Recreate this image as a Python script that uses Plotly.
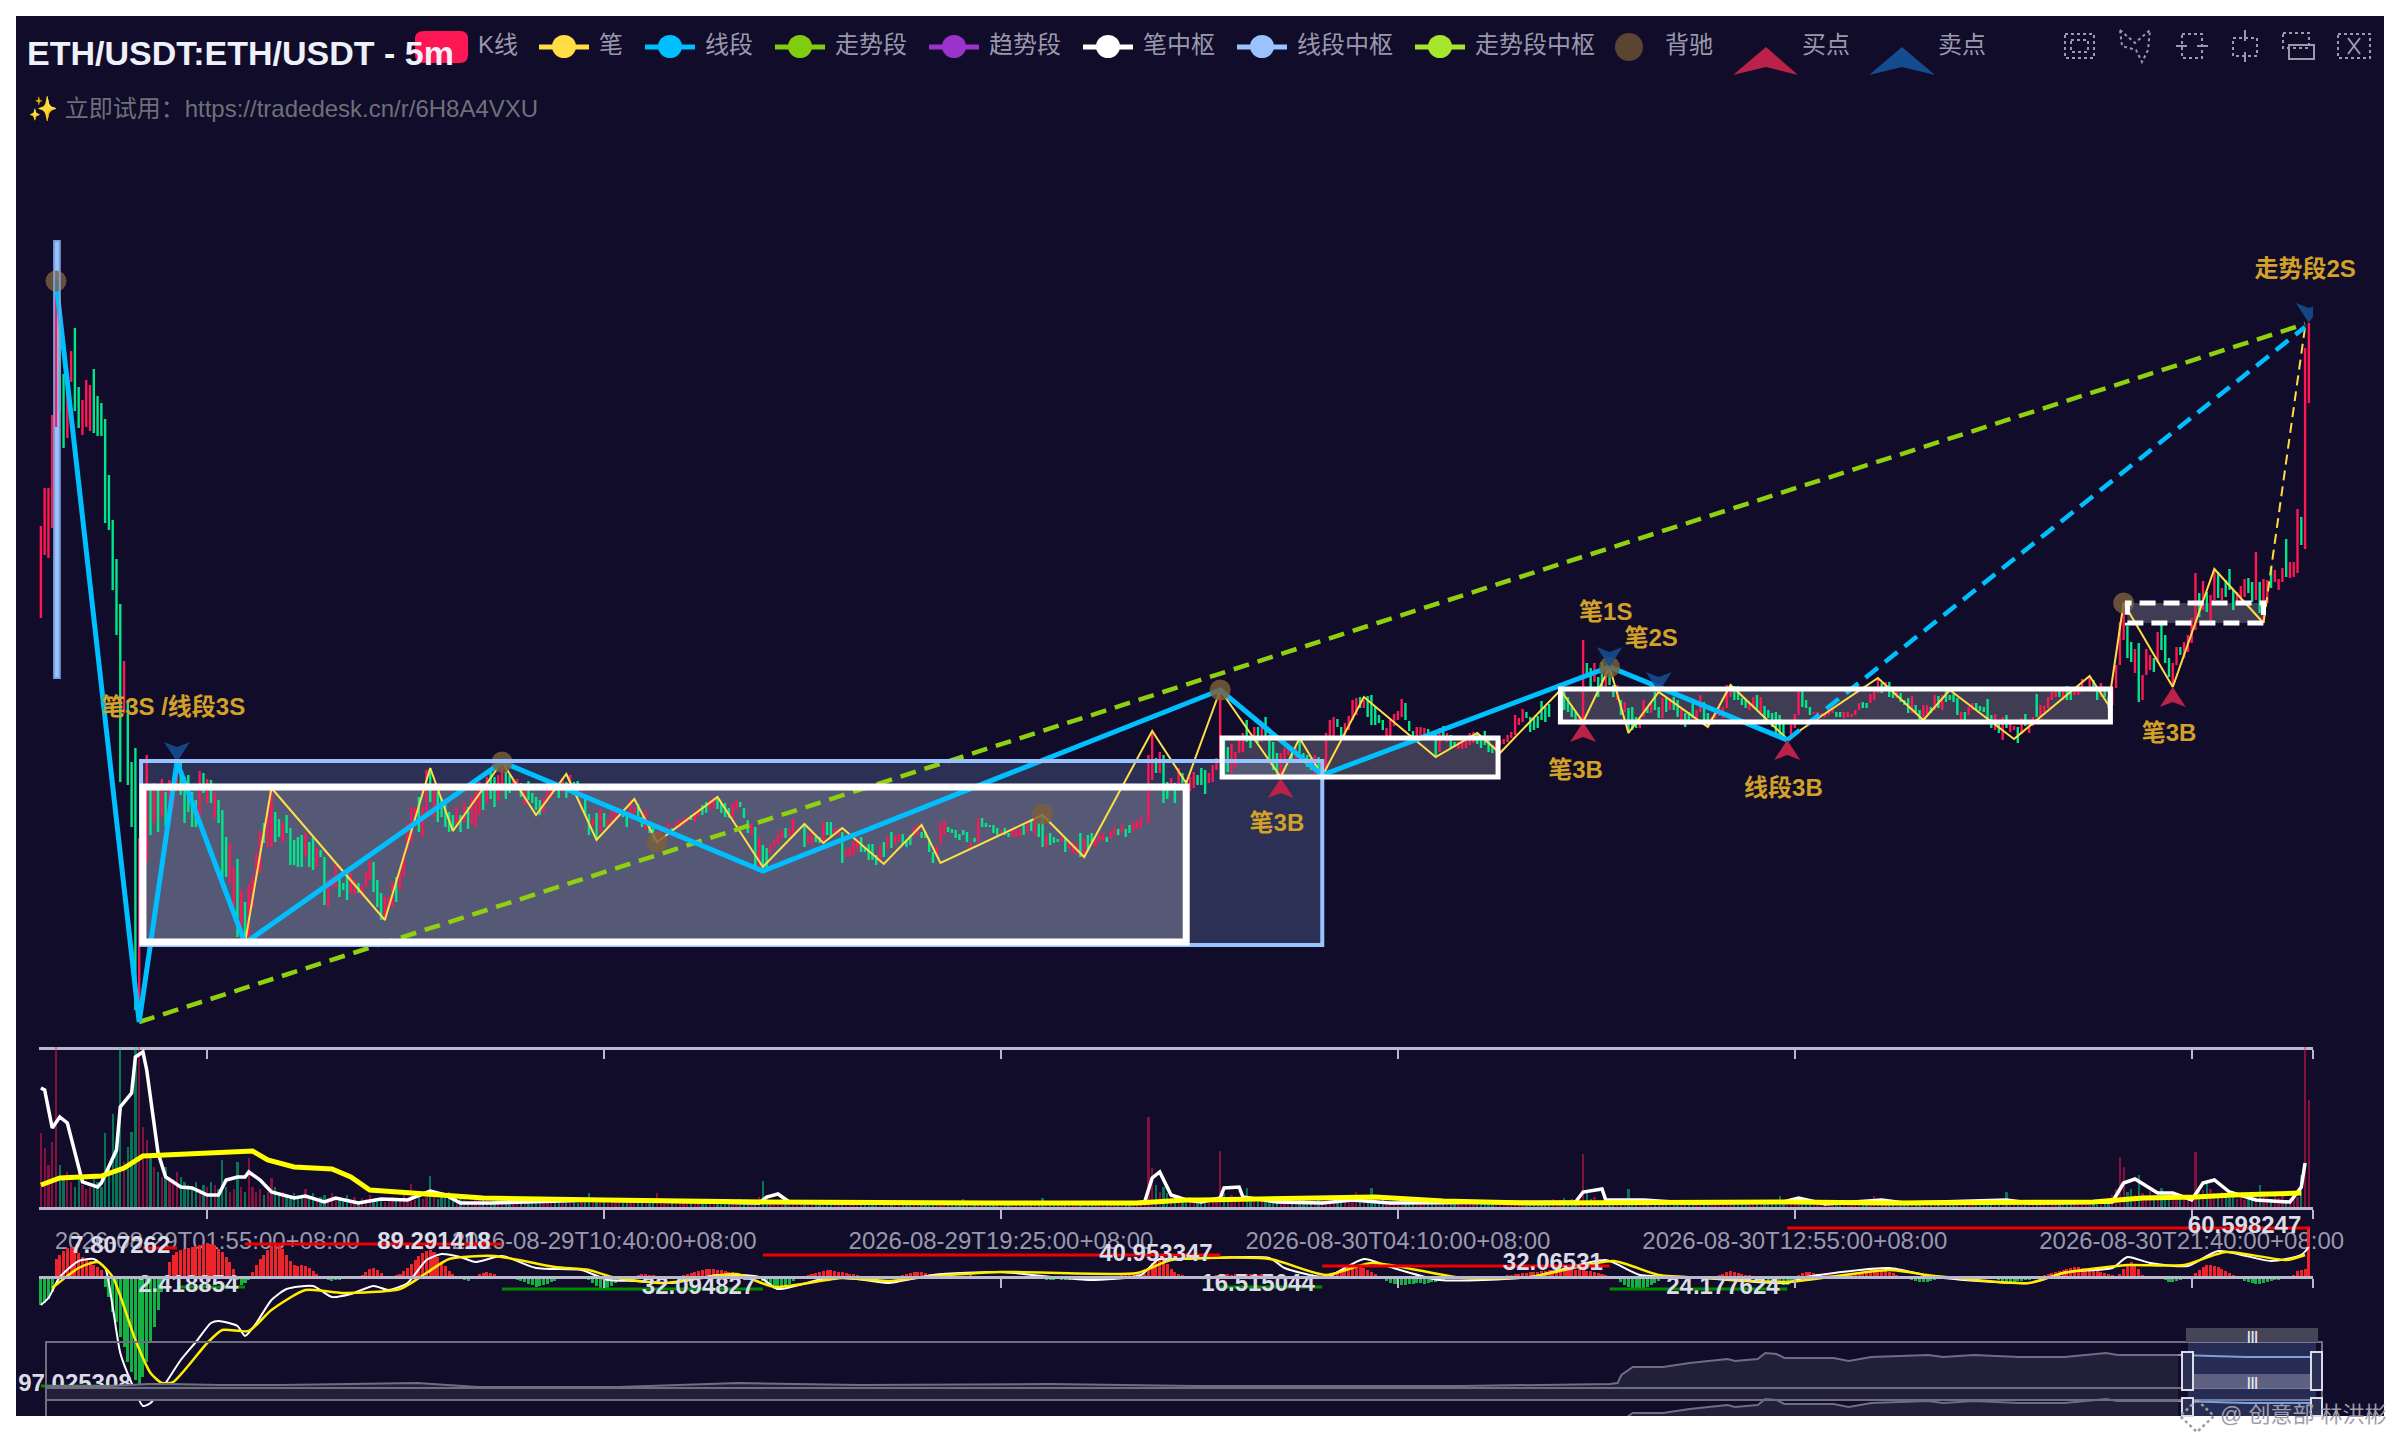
import plotly.graph_objects as go

# bars per stretch of the chart: (high, low, up)
bars_a = [(521,429,1),(559,492,1),(559,489,1),(632,519,1),(766,620,1),(727,634,0),(673,599,0),(669,609,1),(696,665,1),(719,636,0),
          (660,619,0),(647,612,1),(667,620,1),(662,616,1),(678,614,0),(651,611,0),(644,611,0),(628,524,0),(572,517,0),(527,457,0),
          (488,412,0),(443,265,0),(386,334,1),(347,262,0),(285,220,0),(299,37,0),(209,25,1),(245,172,1),(292,185,1),(259,212,0),
          (264,224,1),(259,215,0),(268,230,1),(255,220,0),(267,230,1),(270,240,1),(285,255,1),(284,252,0),(270,224,0),(272,235,0),
          (255,220,0),(247,220,0),(276,230,1),(274,254,0),(268,244,1),(267,244,0),(254,229,1),(247,224,0),(237,159,0),(210,170,0),
          (204,164,1),(180,140,1),(188,110,0),(157,112,1),(145,104,0),(163,104,1),(170,140,1),(194,170,1),(216,174,1),(224,204,0),
          (240,200,1),(260,200,1),(235,205,0),(228,210,0),(225,205,1),(232,214,0),(219,182,0),(207,182,0),(210,180,0),(212,180,0),
          (214,190,1),(205,180,0),(210,177,0),(199,180,1),(197,190,0),(190,142,0),(167,140,1),(170,160,1),(182,160,1),(170,150,0),
          (164,157,0),(174,147,0),(174,154,1),(167,152,1),(164,154,0),(162,150,1),(175,160,1),(187,167,1),(185,155,0),(167,140,0),
          (154,127,0),(150,129,1),(150,137,1),(165,140,1),(170,145,0),(177,157,1),(194,170,1),(224,197,1),(240,205,1),(239,224,1),
          (250,215,0),(240,210,1),(277,235,1),(279,245,0),(260,230,1),(255,225,0),(249,230,0),(245,220,0),(235,215,0),(232,216,0),
          (240,220,1),(232,215,0),(245,225,1),(240,218,0),(250,222,1),(255,220,1),(265,232,1),(262,237,0),(270,245,1),(275,248,0),
          (270,240,0),(272,246,1),(287,255,1),(275,248,0)]
bars_b = [(272,254,0),(267,257,1),(268,258,1),(264,250,0),(259,242,1),(266,247,0),(254,244,0),(250,237,0),(247,232,0),(249,234,1),
          (257,245,1),(262,249,1),(263,257,0),(264,249,0),(269,255,1),(265,249,0),(272,259,1),(265,252,0),(266,252,0),(261,249,1),
          (249,232,0),(233,212,0),(229,221,1),(234,209,0),(238,215,1),(234,220,0),(228,220,1),(238,225,1),(237,229,1),(237,230,1),
          (237,230,0),(232,220,0),(247,230,1),(240,233,1),(243,227,0),(230,220,0),(237,217,1),(222,214,0),(222,205,0),(215,207,1),
          (217,210,1),(220,214,1),(224,217,1),(219,216,0),(225,219,1),(227,220,1),(229,222,1),(230,225,1),(232,227,0),(234,225,1),
          (239,230,1),(242,232,0),(245,234,0),(247,237,1),(250,239,1),(248,238,0)]
bars_c = [(244,234,0),(244,230,0),(239,229,0),(244,229,1),(247,237,1),(245,240,0),(239,229,0),(227,214,0),(224,212,1),(220,179,0),
          (209,180,1),(202,179,0),(199,180,0),(202,194,1),(207,200,1),(213,203,1),(217,208,1),(219,209,0),(219,211,1),(229,214,1)]
bars_d = [(222,200,0),(212,204,1),(217,202,1),(212,205,0),(210,204,0),(225,205,1),(225,212,0),(225,209,0),(219,212,1),(219,212,1),
          (215,184,0),(198,190,1),(200,190,1),(206,192,1),(209,197,1),(210,195,0),(200,195,0),(203,187,0),(203,187,0),(192,182,0),
          (201,184,1),(205,190,0),(210,198,1)]
bars_e = [(215,199,0),(211,202,1),(213,205,1),(213,202,0),(207,200,0),(212,202,0),(220,212,1),(222,212,1),(215,209,0),(215,209,0),
          (209,195,0),(195,184,0),(201,193,1),(224,203,1),(227,212,1),(220,215,0),(218,214,0),(217,209,0),(213,207,0),(217,212,0),
          (215,205,0),(205,199,1),(209,205,0),(229,205,1),(229,220,0),(224,220,0),(222,220,0),(222,214,0),(219,212,0),(217,212,1),
          (219,212,0),(214,210,0),(217,210,1),(217,210,1),(218,210,1),(222,212,0),(226,214,1),(228,216,0),(226,212,1),(224,210,0)]
bars_f = [(232,200,0),(212,200,1),(214,202,0),(210,204,0),(208,205,0),(210,205,1),(210,195,0),(205,198,1),(204,195,1),(204,192,1),
          (214,190,0),(209,190,1),(212,196,0),(214,205,0),(208,200,1),(212,205,1),(214,207,1),(210,205,0),(216,208,1),(220,212,1),
          (218,212,0),(222,214,1),(218,210,0),(222,214,0),(225,216,1),(226,218,1),(230,220,1)]
bars_g = [(292,224,1),(316,267,1),(289,274,0),(295,274,1),(292,244,0),(265,248,0),(269,261,1),(264,244,0),(279,264,1),(274,264,0),
          (267,251,0),(270,256,1),(275,259,1),(272,262,0),(279,262,0),(277,253,0),(274,264,1),(282,265,1),(289,277,1)]
bars_h = [(357,289,1),(307,272,0),(300,275,0),(303,274,1),(295,280,1),(310,294,1),(314,295,1),(327,305,0),(307,299,0),(320,307,1),
          (320,304,0),(321,305,1),(330,309,0),(312,285,0),(305,277,0),(294,270,0),(294,270,1),(299,284,1),(301,292,1),(300,285,0),
          (300,285,1),(309,294,0),(294,285,0),(292,280,0),(289,277,0),(292,272,1),(290,275,0)]
bars_i = [(285,270,1),(314,274,1),(327,307,1),(330,310,1),(328,320,0),(320,309,0),(324,310,1),(331,317,1),(347,327,1),(349,332,1),
          (350,339,0),(347,339,1),(351,330,0),(352,322,0),(340,322,0),(332,324,0),(327,317,0),(319,307,1),(327,310,1),(333,321,1),
          (336,327,1),(348,330,1),(344,327,0),(326,316,0),(316,307,0),(320,310,1),(320,312,1),(319,312,1),(318,310,0),(314,307,0)]
bars_j = [(314,290,0),(319,295,1),(321,307,0),(314,305,1),(312,299,0),(305,300,0),(305,298,1),(305,298,1),(309,299,1),(314,302,1),
          (315,304,1),(314,303,0),(310,299,0),(316,302,0),(307,295,0),(302,294,0),(303,295,1),(307,302,1),(308,303,1),(312,305,1),
          (315,309,1),(332,312,1),(329,322,1),(338,325,1),(335,329,0),(330,315,0),(329,317,0),(331,319,0),(346,327,0),(340,325,0),(343,330,0)]
bars_k = [(357,337,1),(357,337,0),(350,335,0),(342,330,0),(335,325,0),(330,322,1),(407,320,1),(384,370,0),(379,360,0),(384,365,1),(370,350,0)]
bars_l = [(385,360,0),(377,360,1),(379,362,0),(362,350,0),(362,347,1),(347,332,0),(345,335,1),(339,314,0),(340,317,0),(330,319,0),
          (330,319,1),(347,330,1),(340,334,0),(344,334,1),(355,337,0),(340,329,0),(349,329,1),(350,335,0),(349,337,1),(350,337,0),
          (347,330,0),(339,322,1),(334,320,0),(335,324,0),(345,329,0),(337,327,1),(352,335,1),(345,327,0),(334,320,0),(330,322,1),
          (335,329,1),(341,331,1),(340,329,1),(362,339,1),(361,350,1),(361,347,0),(361,347,0),(349,342,0),(347,339,0),(344,337,1),
          (350,339,1),(352,337,0),(350,335,1),(341,325,0),(337,329,0),(334,320,0),(335,312,0),(332,312,0),(323,307,0)]
bars_m = [(322,312,1),(333,319,1),(357,332,1),(359,340,0),(347,339,0),(340,332,0),(335,333,1),(335,332,1),(334,332,1),(334,330,1),
          (336,332,1),(339,334,1),(335,330,0),(335,330,0),(335,329,1),(335,330,1),(333,330,1),(337,332,1),(344,337,1),(345,339,0),
          (344,339,0),(353,344,1),(359,347,1),(369,354,1),(364,354,0),(365,357,1),(365,350,0),(355,349,0),(355,349,1),(354,345,0),
          (347,342,0),(349,334,0),(351,334,1),(342,335,0),(337,327,0),(342,330,1),(342,332,1),(340,334,0),(352,337,1),(351,339,0),
          (352,337,1),(358,345,0),(352,347,0),(353,345,0),(349,332,0),(335,327,1),(335,326,0),(340,332,1),(344,337,1),(344,337,0),
          (341,336,0),(340,335,0),(348,327,0),(332,319,0),(333,317,1),(325,314,0),(330,307,1),(332,319,0),(323,315,1),(321,317,1),
          (320,304,0),(329,313,1),(333,321,0),(322,314,1),(330,321,1),(353,330,0),(342,330,1),(341,335,1),(350,339,1),(355,347,1),
          (359,350,1),(357,350,0),(358,347,1),(361,347,0),(355,347,0),(359,352,1),(362,352,1),(368,355,1)]
bars_n = [(370,357,1),(367,357,0),(359,347,0),(364,350,1),(359,350,0),(350,339,0),(360,342,1),(382,359,1),(425,382,1),(444,407,1),
          (421,389,0),(405,385,0),(398,374,1),(404,345,0),(372,347,1),(398,372,1),(392,377,1),(389,375,0),(415,385,1),(424,397,0),
          (412,384,0),(389,370,0),(384,360,1),(400,382,1),(400,392,0),(405,389,1),(412,395,1),(429,404,1),(474,417,1),(454,430,0),
          (466,437,1),(455,435,0),(452,422,1),(478,447,1),(475,449,0),(459,447,1),(467,450,0),(478,457,0),(457,437,0),(455,442,1),
          (461,442,1),(468,450,1),(469,454,0),(465,445,0),(495,447,1),(465,434,0),(468,424,1),(467,444,1),(480,459,0),(477,465,1),
          (468,457,1),(479,465,1),(508,470,0),(485,469,1),(485,470,1),(538,474,1),(530,502,0),(699,498,1),(724,644,1)]
bar_starts = [0, 124, 180, 202, 225, 265, 293, 312, 339, 369, 402, 413, 463, 542]
bar_groups = [bars_a, bars_b, bars_c, bars_d, bars_e, bars_f, bars_g, bars_h, bars_i, bars_j, bars_k, bars_l, bars_m, bars_n]

volume = [74,59,42,65,187,42,30,35,25,20,35,22,18,20,28,25,20,74,40,93,
          60,230,45,60,75,250,187,80,67,50,40,35,30,40,30,28,35,30,25,22,
          20,25,18,22,20,25,22,18,47,20,15,18,45,20,15,49,20,15,18,12,
          15,29,20,12,15,10,12,14,10,12,18,9,14,8,10,12,9,14,10,8,
          9,12,7,10,6,9,8,12,6,7,9,5,8,10,7,6,12,8,23,7,
          10,8,12,31,14,8,10,12,15,7,6,8,10,5,6,8,7,9,6,5,
          6,8,5,7,6,4,7,5,8,6,4,5,7,5,6,4,7,5,6,8,
          5,6,4,7,5,14,6,5,8,7,4,6,5,7,4,6,5,7,4,5,
          6,8,4,14,6,5,4,7,5,6,4,5,7,3,5,6,4,5,7,4,
          5,6,4,6,5,8,4,5,6,7,10,26,12,7,5,6,8,4,5,6,
          5,4,7,5,6,4,5,7,4,6,5,7,4,5,3,6,4,5,7,4,
          5,6,4,5,3,4,7,4,6,4,5,3,4,6,5,3,4,5,4,3,
          6,4,3,5,8,4,3,4,5,3,4,3,5,4,3,4,5,3,4,3,
          3,4,3,5,4,9,4,3,5,3,4,3,5,4,3,4,5,3,4,3,
          5,3,4,3,4,5,3,4,5,4,6,5,8,90,39,22,15,20,14,10,
          9,12,8,6,10,7,5,8,6,9,7,6,56,14,10,12,9,7,6,19,
          10,8,7,9,6,5,8,6,5,7,4,6,5,7,8,5,6,4,7,9,
          6,5,8,4,6,5,7,5,15,7,8,6,19,6,5,7,4,6,5,4,
          5,4,6,3,5,4,5,3,6,4,3,5,4,3,4,6,3,4,5,3,
          4,3,5,4,3,4,5,6,3,4,5,3,4,5,3,6,4,5,7,6,
          8,6,7,9,6,8,7,9,53,15,8,10,7,6,9,7,6,5,8,6,
          18,7,5,8,6,5,7,6,5,4,6,5,7,4,5,6,4,5,3,4,
          5,4,6,3,5,4,3,7,5,4,6,4,3,5,4,3,4,6,5,7,
          11,6,5,9,6,5,4,6,5,3,4,5,3,4,6,3,5,4,3,5,
          4,6,5,3,4,11,6,4,5,3,4,5,3,4,6,3,4,5,3,4,
          3,5,4,3,4,6,3,5,4,3,4,6,5,3,4,5,6,4,7,8,
          15,8,6,5,7,4,6,5,4,6,3,5,4,6,3,5,4,3,6,4,
          5,3,6,4,5,7,5,9,12,18,50,40,15,18,12,32,14,10,16,12,
          9,19,14,10,8,12,9,8,10,11,55,20,17,27,18,14,12,15,10,9,
          12,8,10,7,9,8,14,22,16,10,8,11,9,13,7,9,12,10,32,171,107]

vol_ma_fast_i = [0,1,3,5,7,10,11,15,16,20,21,24,25,27,28,31,33,37,40,44,47,49,52,54,55,58,61,67,70,75,78,84,90,97,103,107,111,119,147,190,192,195,198,212,265,289,292,294,296,299,303,307,312,313,317,318,327,339,347,357,406,408,413,414,424,436,461,465,472,487,493,520,526,548,551,554,560,564,569,572,575,579,586,595,598,599]
vol_ma_fast = [119,117,79,90,84,40,25,20,24,57,100,114,150,155,137,54,30,20,19,12,12,27,30,30,35,27,15,9,11,5,9,4,8,7,16,12,4,4,7,4,10,13,5,4,4,4,5,29,35,12,7,5,9,19,20,10,5,4,7,4,5,15,18,7,7,4,5,9,3,7,4,7,4,5,24,28,14,14,7,24,27,15,7,5,20,44]
vol_ma_slow_i = [0,5,16,22,27,38,56,60,67,77,82,87,103,117,149,191,252,290,303,307,353,371,394,463,489,543,556,570,580,598]
vol_ma_slow = [22,29,31,39,51,53,56,47,40,38,30,17,13,9,7,5,4,4,7,7,10,6,4,5,4,5,9,10,12,14]

macd_hist = [-28,-26,-22,-15,18,22,26,29,30,28,24,20,18,16,12,10,7,-10,-20,-35,
             -45,-60,-70,-85,-95,-103,-108,-100,-85,-66,-50,-33,-15,-3,15,22,25,27,28,29,
             30,31,32,33,34,33,32,28,25,20,15,8,-3,-8,-6,-3,5,12,18,22,
             27,31,34,33,28,22,16,12,11,12,11,9,6,3,1,-2,-3,-4,-3,-3,
             -2,-1,-1,-1,-1,2,5,8,9,7,4,1,-1,-1,2,3,6,9,13,17,
             21,24,26,27,25,20,15,11,6,3,1,-2,-3,-4,-2,1,3,4,5,4,
             3,1,1,-1,-1,-2,-3,-4,-5,-7,-8,-10,-9,-8,-7,-5,-4,-2,-1,-1,
             1,1,1,1,1,-3,-6,-9,-11,-13,-11,-9,-6,-3,-1,1,1,1,2,3,
             3,2,2,1,1,-1,-1,-1,-1,1,2,3,4,5,6,7,8,8,8,7,
             7,6,5,5,4,3,3,2,2,1,-1,-4,-7,-10,-12,-13,-12,-10,-7,-4,
             -2,1,1,2,3,4,5,6,7,7,6,5,5,4,3,3,2,1,1,-1,
             -1,-2,-2,-2,-1,-1,-1,1,2,3,4,5,5,5,4,3,3,2,2,1,
             1,1,-1,-1,1,1,2,1,1,-1,-1,-2,-1,-1,1,1,1,-1,-1,-1,
             1,1,-1,-1,-1,-2,-3,-3,-3,-2,-3,-3,-3,-2,-3,-3,-2,-3,-2,-2,
             -2,-1,-1,1,1,1,2,3,3,3,3,2,3,8,14,17,19,17,13,8,
             5,3,2,1,1,1,1,1,1,1,1,2,3,3,3,2,3,3,2,3,
             3,2,2,3,2,2,1,1,1,1,1,1,1,1,1,1,-1,-1,-2,-2,
             -1,2,4,6,8,10,11,12,12,11,9,7,5,3,1,-2,-4,-6,-7,-7,
             -8,-8,-7,-7,-6,-6,-7,-6,-5,-5,-4,-3,-2,-1,-1,1,1,-1,1,1,
             1,1,-1,1,1,1,1,1,2,2,3,3,4,4,5,5,5,6,6,7,
             7,8,8,8,7,7,7,8,7,6,6,5,4,3,2,1,1,-2,-5,-8,
             -10,-12,-13,-13,-12,-10,-8,-6,-4,-2,-1,1,1,-1,-1,1,1,1,-1,-1,
             -1,1,1,1,2,3,5,6,5,4,3,2,2,1,1,-1,-2,-4,-5,-6,
             -7,-8,-8,-6,-4,2,4,5,5,4,3,3,3,2,2,2,2,3,2,2,
             3,4,5,6,7,8,8,7,6,5,4,2,1,-1,-2,-3,-4,-5,-5,-5,
             -4,-3,-2,-1,-1,1,1,1,-1,1,-1,-1,1,-1,-1,-1,-1,-2,-3,-4,
             -5,-5,-5,-4,-4,-3,-3,-2,-1,1,2,3,4,5,6,7,8,9,10,10,
             9,9,8,7,6,5,4,3,2,-1,3,8,12,15,13,8,2,1,-1,1,
             -1,-1,-3,-5,-5,-4,-3,-2,-1,1,4,7,10,12,12,11,10,8,6,4,
             2,-1,-2,-4,-5,-6,-7,-7,-6,-5,-4,-3,-3,-2,-2,-1,2,6,7,8,50]

# DIF and DEA, read point by point as (bar, value)
dif_pts = [(0,-28),(2,-21),(5,0),(10,16),(14,18),(17,9),(19,-30),(21,-76),(24,-106),(27,-129),(29,-126),(33,-106),(37,-83),(41,-65),(45,-46),
           (47,-44),(52,-49),(54,-59),(57,-46),(61,-23),(65,-12),(72,-9),(77,-20),(82,-17),(88,-9),(92,-13),(97,-6),(102,17),(106,23),(111,20),
           (115,15),(122,21),(131,9),(143,7),(150,-3),(157,-4),(167,-6),(179,2),(190,0),(195,-12),(208,-1),(216,-2),(224,-6),(236,2),(254,5),
           (277,-3),(291,2),(295,16),(296,18),(303,18),(325,19),(329,9),(340,0),(350,18),(357,10),(370,-3),(394,0),(414,17),(423,2),(436,0),
           (462,-6),(467,0),(489,9),(501,0),(526,-6),(536,5),(548,9),(552,20),(558,14),(568,11),(576,26),(590,16),(598,22),(600,30)]
dea_pts = [(3,-11),(10,9),(15,15),(19,0),(25,-63),(29,-96),(32,-106),(35,-105),(44,-66),(48,-53),(55,-54),(61,-33),(70,-13),(80,-16),(95,-12),
           (102,4),(108,18),(120,21),(136,10),(145,7),(151,0),(165,-6),(184,3),(194,-10),(212,-1),(224,-4),(234,0),(254,5),(290,4),(299,17),
           (325,18),(340,2),(352,14),(376,-1),(394,0),(416,16),(428,2),(441,-1),(462,-5),(489,7),(501,1),(526,-6),(535,4),(552,12),(567,12),
           (578,25),(594,17),(599,22)]
dif_i = [p[0] for p in dif_pts]
dif = [p[1] for p in dif_pts]
dea_i = [p[0] for p in dea_pts]
dea = [p[1] for p in dea_pts]

mark_hi_i = [[27, 36], [54, 122], [191, 312], [339, 415], [462, 600]]
mark_hi = [29, 33, 22, 11, 49]
mark_lo_i = [[0, 26], [36, 54], [122, 191], [312, 339], [415, 462]]
mark_lo = [-109, -10, -12, -10, -12]
mark_label_i = [-2, 21, 39, 104, 174, 295, 322, 400, 445, 583, 9]
mark_label_v = [40, 30, -9, 34, -11, 22, -8, 13, -11, 50, -108]
mark_labels = ["474", "7.807262", "2.418854", "89.291418", "32.094827", "40.953347", "16.515044", "32.06531", "24.177624", "60.598247", "97.025308"]

bi_i = [4,26,36,54,61,91,103,109,122,131,139,147,157,163,179,191,202,207,212,223,233,238,265,276,294,303,312,328,333,339,350,369,380,386,402,408,415,420,428,441,447,462,486,498,505,522,542,547,551,564,575,588]
bi_v = [766,25,285,104,259,127,279,216,285,232,273,207,248,205,250,180,223,204,219,183,222,184,232,190,316,264,357,270,309,271,350,290,314,294,357,325,380,314,355,320,362,308,369,327,357,308,371,342,444,360,478,424]
bi_open_i = [588, 599]
bi_open_v = [424, 720]
seg_i = [4,26,36,54,122,191,312,339,415,462]
seg_v = [766,25,285,104,285,176,357,272,380,307]
seg_open_i = [462, 599]
seg_open_v = [307, 720]
trend_i = [26, 599]
trend_v = [25, 723]

seg_hubs = [(3.5, 5, 369, 806), (26.5, 339, 102, 286)]
bi_hubs = [(27, 303, 105, 260), (312.5, 385.5, 270, 309), (402, 547.5, 325, 358)]
bi_hub_open = (552, 588, 424, 444)

buy_i = [328, 408, 462, 564]
buy_v = [269, 325, 307, 360]
sell_i = [36, 415, 428, 600]
sell_v = [285, 380, 355, 724]
div_i = [4, 122, 163, 265, 312, 415, 551]
div_v = [766, 285, 205, 233, 357, 380, 444]
sig_label_i = [327, 406, 461, 563, 35, 414, 426, 599]
sig_label_v = [222, 275, 257, 312, 338, 433, 407, 776]
sig_labels = ["笔3B", "笔3B", "线段3B", "笔3B", "笔3S /线段3S", "笔1S", "笔2S", "走势段2S"]

tick_i = [44, 149, 254, 359, 464, 569, 601]
tick_labels = ["2026-08-29T01:55:00+08:00", "2026-08-29T10:40:00+08:00", "2026-08-29T19:25:00+08:00",
               "2026-08-30T04:10:00+08:00", "2026-08-30T12:55:00+08:00", "2026-08-30T21:40:00+08:00", ""]

shadow_i = [0,17,27,33,46,62,80,98,114,151,183,215,265,304,373,413,415,416,419,427,434,444,446,452,454,457,459,472,476,482,497,501,509,521,533,544,547,563]
shadow_v = [14,14,16,16,15,15,16,17,13,13,17,15,16,14,14,16,17,25,33,33,37,41,39,41,47,46,42,42,39,43,45,43,45,43,43,47,45,45]
shadow_sel_i = [563, 581, 599]
shadow_sel_v = [45, 43, 43]

legend_lines = [("笔", 539, "#ffdd44"), ("线段", 645, "#00bfff"), ("走势段", 775, "#7fcc11"), ("趋势段", 929, "#9933cc"),
                ("笔中枢", 1083, "#ffffff"), ("线段中枢", 1237, "#99c2ff"), ("走势段中枢", 1415, "#a6e62e")]

BG = "#100c2a"
UP = "#ff1654"
DOWN = "#00e68a"
AXIS = "#b9b8ce"
GOLD = "#d3a128"
FONT = "Liberation Sans, Noto Sans CJK SC"


# 页面像素 -> paper
def px(x):
    return (x - 16) / 2368


def py(y):
    return (1416 - y) / 1400


def path(pts, close=False):
    s = "M" + " L".join(f"{px(x):.5f},{py(y):.5f}" for x, y in pts)
    return s + (" Z" if close else "")


shapes = [dict(type="rect", xref="paper", yref="paper", x0=0, x1=1, y0=0, y1=1, fillcolor=BG, line_width=0, layer="below")]
annos = []


def add_line(x0, y0, x1, y1, color, width=2, dash="solid"):
    shapes.append(dict(type="line", xref="paper", yref="paper", x0=px(x0), y0=py(y0), x1=px(x1), y1=py(y1),
                       line=dict(color=color, width=width, dash=dash), layer="above"))


def add_box(x0, y0, x1, y1, fill="rgba(0,0,0,0)", color="rgba(0,0,0,0)", width=0, dash="solid"):
    shapes.append(dict(type="rect", xref="paper", yref="paper", x0=px(x0), y0=py(y0), x1=px(x1), y1=py(y1),
                       fillcolor=fill, line=dict(color=color, width=width, dash=dash), layer="above"))


def add_text(x, y, text, size=24, color="#9a98ac", anchor="left", bold=False):
    annos.append(dict(xref="paper", yref="paper", x=px(x), y=py(y), text=f"<b>{text}</b>" if bold else text,
                      showarrow=False, xanchor=anchor, yanchor="middle",
                      font=dict(size=size, color=color, family=FONT)))


# 中枢: 填充在下, 边框在上
def add_hub(box, fill, color, width, dash="solid"):
    x0, x1, y0, y1 = box
    shapes.append(dict(type="rect", x0=x0, x1=x1, y0=y0, y1=y1, xref="x", yref="y", layer="below",
                       fillcolor=fill, line_width=0))
    shapes.append(dict(type="rect", x0=x0, x1=x1, y0=y0, y1=y1, xref="x", yref="y", layer="above",
                       line=dict(color=color, width=width, dash=dash)))


# 买卖点箭头, 大小按像素, 位置按数据
def add_arrow(i, v, color, sign):
    shapes.append(dict(type="path", xref="x", yref="y", xsizemode="pixel", ysizemode="pixel", xanchor=i, yanchor=v,
                       path=f"M0,0 L-13,{sign * 20} L0,{sign * 15} L13,{sign * 20} Z",
                       fillcolor=color, line_width=0, layer="above"))


bar_x, bar_high, bar_low, bar_open, bar_close = [], [], [], [], []
for start, group in zip(bar_starts, bar_groups):
    for k, (h, l, up) in enumerate(group):
        bar_x.append(start + k)
        bar_high.append(h)
        bar_low.append(l)
        bar_open.append(l if up else h)
        bar_close.append(h if up else l)

fig = go.Figure()

fig.add_trace(go.Ohlc(x=bar_x, open=bar_open, high=bar_high, low=bar_low, close=bar_close, tickwidth=0,
                      increasing_line_color=UP, decreasing_line_color=DOWN, line_width=2.4, name="K线"))
fig.add_trace(go.Scatter(x=bi_i, y=bi_v, mode="lines", name="笔", line=dict(color="#ffdd44", width=2)))
fig.add_trace(go.Scatter(x=bi_open_i, y=bi_open_v, mode="lines", name="笔", line=dict(color="#ffdd44", width=2, dash="10px,6px")))
fig.add_trace(go.Scatter(x=trend_i, y=trend_v, mode="lines", name="走势段", line=dict(color="#8fd00f", width=4.5, dash="16px,9px")))
fig.add_trace(go.Scatter(x=seg_i, y=seg_v, mode="lines", name="线段", line=dict(color="#00bfff", width=5)))
fig.add_trace(go.Scatter(x=seg_open_i, y=seg_open_v, mode="lines", name="线段", line=dict(color="#00bfff", width=4.5, dash="16px,9px")))
fig.add_trace(go.Scatter(x=div_i, y=div_v, mode="markers", name="背驰",
                         marker=dict(size=21, color="rgba(125,95,60,0.82)", line_width=0)))
fig.add_trace(go.Scatter(x=sig_label_i, y=sig_label_v, mode="text", text=sig_labels, textposition="middle center",
                         textfont=dict(size=24, color=GOLD, family=FONT, weight="bold"), cliponaxis=False))

for i, v in zip(buy_i, buy_v):
    add_arrow(i, v, "#bb2249", -1)
for i, v in zip(sell_i, sell_v):
    add_arrow(i, v, "rgba(21,76,143,0.9)", 1)

vol_colors = []
bar_up = {x: o < c for x, o, c in zip(bar_x, bar_open, bar_close)}
for i in range(len(volume)):
    vol_colors.append("rgba(255,22,84,0.48)" if bar_up.get(i, True) else "rgba(0,230,138,0.48)")
fig.add_trace(go.Bar(x=list(range(len(volume))), y=volume, marker=dict(color=vol_colors, line_width=0), width=0.6,
                     xaxis="x2", yaxis="y2", cliponaxis=False, name="成交量"))
fig.add_trace(go.Scatter(x=vol_ma_fast_i, y=vol_ma_fast, mode="lines", line=dict(color="#ffffff", width=3.5), xaxis="x2", yaxis="y2"))
fig.add_trace(go.Scatter(x=vol_ma_slow_i, y=vol_ma_slow, mode="lines", line=dict(color="#ffff00", width=5), xaxis="x2", yaxis="y2"))

hist_colors = ["#ef232a" if v >= 0 else "#14b143" for v in macd_hist]
fig.add_trace(go.Bar(x=list(range(len(macd_hist))), y=macd_hist, marker=dict(color=hist_colors, line_width=0), width=0.8,
                     xaxis="x3", yaxis="y3", name="MACD"))
fig.add_trace(go.Scatter(x=dif_i, y=dif, mode="lines", line=dict(color="#ffffff", width=2, shape="spline", smoothing=0.6),
                         xaxis="x3", yaxis="y3", cliponaxis=False))
fig.add_trace(go.Scatter(x=dea_i, y=dea, mode="lines", line=dict(color="#ffee00", width=2.5, shape="spline", smoothing=0.6),
                         xaxis="x3", yaxis="y3", cliponaxis=False))
for xs, v in zip(mark_hi_i, mark_hi):
    fig.add_trace(go.Scatter(x=xs, y=[v, v], mode="lines", line=dict(color="#f00000", width=3), xaxis="x3", yaxis="y3", cliponaxis=False))
for xs, v in zip(mark_lo_i, mark_lo):
    fig.add_trace(go.Scatter(x=xs, y=[v, v], mode="lines", line=dict(color="#008a00", width=3), xaxis="x3", yaxis="y3", cliponaxis=False))
fig.add_trace(go.Scatter(x=mark_label_i, y=mark_label_v, mode="text", text=mark_labels, textposition="middle center",
                         textfont=dict(size=24, color="#dcdce6", family=FONT, weight="bold"), xaxis="x3", yaxis="y3", cliponaxis=False))

# 数据缩放的阴影
for ax in ("y4", "y5"):
    fig.add_trace(go.Scatter(x=shadow_i, y=shadow_v, mode="lines", fill="tozeroy", fillcolor="#221f3a",
                             line=dict(color="#6f6e80", width=2), xaxis="x4", yaxis=ax))
    fig.add_trace(go.Scatter(x=shadow_sel_i, y=shadow_sel_v, mode="lines", line=dict(color="#7a9bd6", width=2), xaxis="x4", yaxis=ax))

# 中枢
add_hub(seg_hubs[0], "#99c2ff", "#7a9fdc", 2)
add_hub(seg_hubs[1], "rgba(153,194,255,0.2)", "#99c2ff", 4)
for k, hub in enumerate(bi_hubs):
    add_hub(hub, "rgba(255,255,255,0.2)", "#ffffff", 7 if k == 0 else 5)
add_hub(bi_hub_open, "rgba(255,255,255,0.2)", "#ffffff", 5, "16px,8px")

# 标题和图例
add_text(25, 53, "ETH/USDT:ETH/USDT - 5m", size=34, color="#eef1fa", bold=True)
add_text(26, 108, "✨ 立即试用：https://tradedesk.cn/r/6H8A4VXU", size=24, color="#6e7079")

k = "M%.5f,%.5f L%.5f,%.5f Q%.5f,%.5f %.5f,%.5f L%.5f,%.5f Q%.5f,%.5f %.5f,%.5f L%.5f,%.5f Q%.5f,%.5f %.5f,%.5f L%.5f,%.5f Q%.5f,%.5f %.5f,%.5f Z" % (
    px(424), py(31), px(460), py(31), px(468), py(31), px(468), py(39), px(468), py(55), px(468), py(63), px(460), py(63),
    px(424), py(63), px(415), py(63), px(415), py(55), px(415), py(39), px(415), py(31), px(424), py(31))
shapes.append(dict(type="path", xref="paper", yref="paper", path=k, fillcolor=UP, line_width=0, layer="above"))
add_text(476, 45, "K线")

for name, x0, color in legend_lines:
    add_line(x0, 47, x0 + 50, 47, color, width=5)
    shapes.append(dict(type="circle", xref="paper", yref="paper", x0=px(x0 + 13), x1=px(x0 + 37), y0=py(35), y1=py(58),
                       fillcolor=color, line_width=0, layer="above"))
    add_text(x0 + 58, 45, name)

shapes.append(dict(type="circle", xref="paper", yref="paper", x0=px(1615), x1=px(1643), y0=py(33), y1=py(61),
                   fillcolor="#5c4433", line_width=0, layer="above"))
add_text(1663, 45, "背驰")
shapes.append(dict(type="path", xref="paper", yref="paper", path=path([(1766, 47), (1733, 75), (1766, 67), (1798, 75)], True),
                   fillcolor="#bb2249", line_width=0, layer="above"))
add_text(1800, 45, "买点")
shapes.append(dict(type="path", xref="paper", yref="paper", path=path([(1902, 47), (1869, 75), (1902, 67), (1935, 75)], True),
                   fillcolor="#154c8f", line_width=0, layer="above"))
add_text(1936, 45, "卖点")

# 工具箱图标
TOOL = "#9b99ad"
add_box(2065, 34, 2094, 58, color=TOOL, width=2, dash="dot")
add_box(2071, 40, 2088, 52, color=TOOL, width=2, dash="dot")
shapes.append(dict(type="path", xref="paper", yref="paper", layer="above", line=dict(color=TOOL, width=2, dash="dot"),
                   path=path([(2120, 30), (2135, 43), (2150, 30), (2148, 50), (2142, 62), (2136, 50), (2122, 46)], True)))
add_box(2182, 34, 2202, 58, color=TOOL, width=2, dash="dot")
add_line(2176, 46, 2187, 46, TOOL)
add_line(2197, 46, 2208, 46, TOOL)
add_box(2233, 38, 2257, 56, color=TOOL, width=2, dash="dot")
add_line(2245, 30, 2245, 41, TOOL)
add_line(2245, 52, 2245, 62, TOOL)
add_box(2283, 33, 2309, 48, color=TOOL, width=2, dash="dot")
add_box(2289, 45, 2314, 59, color=TOOL, width=2)
add_box(2338, 34, 2370, 58, color=TOOL, width=2, dash="dot")
add_line(2348, 38, 2360, 54, TOOL)
add_line(2360, 38, 2348, 54, TOOL)

# 数据缩放外框
add_box(46, 1342, 2322, 1400, color="#6f6e80", width=2)
add_line(46, 1388, 2322, 1388, "#6f6e80", width=2)
add_line(46, 1400, 46, 1416, "#6f6e80", width=2)
add_box(2188, 1342, 2316, 1388, fill="rgba(135,175,255,0.2)")
add_box(2188, 1388, 2316, 1416, fill="rgba(135,175,255,0.2)")
add_box(2186, 1328, 2318, 1342, fill="#454459")
add_box(2186, 1374, 2318, 1388, fill="#5d6080")
add_text(2252, 1335, "|||", size=13, color="#e8e8f0", anchor="center", bold=True)
add_text(2252, 1381, "|||", size=13, color="#e8e8f0", anchor="center", bold=True)
for hx in (2182, 2311):
    add_box(hx, 1352, hx + 11, 1390, fill="#2c2f52", color="#d8dce8", width=2)
    add_box(hx, 1398, hx + 11, 1416, fill="#2c2f52", color="#d8dce8", width=2)

# 水印
shapes.append(dict(type="path", xref="paper", yref="paper", layer="above", line=dict(color="#9d9da8", width=2.5, dash="dot"),
                   path=path([(2197, 1400), (2214, 1416), (2197, 1432), (2180, 1416)], True)))
add_text(2218, 1414, "@ 创意部 林洪彬", size=22, color="#9d9da8")

tick_common = dict(tickmode="array", tickvals=tick_i, ticks="outside", ticklen=9, tickwidth=2, tickcolor=AXIS,
                   showline=True, linecolor=AXIS, linewidth=3, showgrid=False, zeroline=False,
                   range=[-0.5, 601.1], domain=[0.00971, 0.97002])

# 页面 body 自带 8px 外边距
fig.update_layout(
    width=2392, height=1432,
    margin=dict(l=8, r=16, t=8, b=24, autoexpand=False),
    paper_bgcolor="#ffffff", plot_bgcolor="rgba(0,0,0,0)",
    showlegend=False, bargap=0, barmode="overlay",
    font=dict(family=FONT),
    shapes=shapes, annotations=annos,
    xaxis=dict(anchor="y", showticklabels=False, rangeslider=dict(visible=False), **tick_common),
    yaxis=dict(domain=[py(1047), 1], range=[0, 1031], visible=False),
    xaxis2=dict(anchor="y2", ticktext=tick_labels, tickfont=dict(size=24, color="#9a98ac"), ticklabelstandoff=1, **tick_common),
    yaxis2=dict(domain=[py(1207), py(1047)], range=[0, 160], visible=False),
    xaxis3=dict(anchor="free", position=py(1277), showticklabels=False, **tick_common),
    yaxis3=dict(domain=[0, py(1216)], range=[-139, 61], visible=False),
    xaxis4=dict(anchor="y4", range=[0, 601], domain=[px(46), px(2322)], visible=False),
    yaxis4=dict(domain=[py(1400), py(1342)], range=[0, 58], visible=False),
    yaxis5=dict(domain=[0, py(1388)], range=[30, 58], visible=False),
)

fig.write_html("out.html")
